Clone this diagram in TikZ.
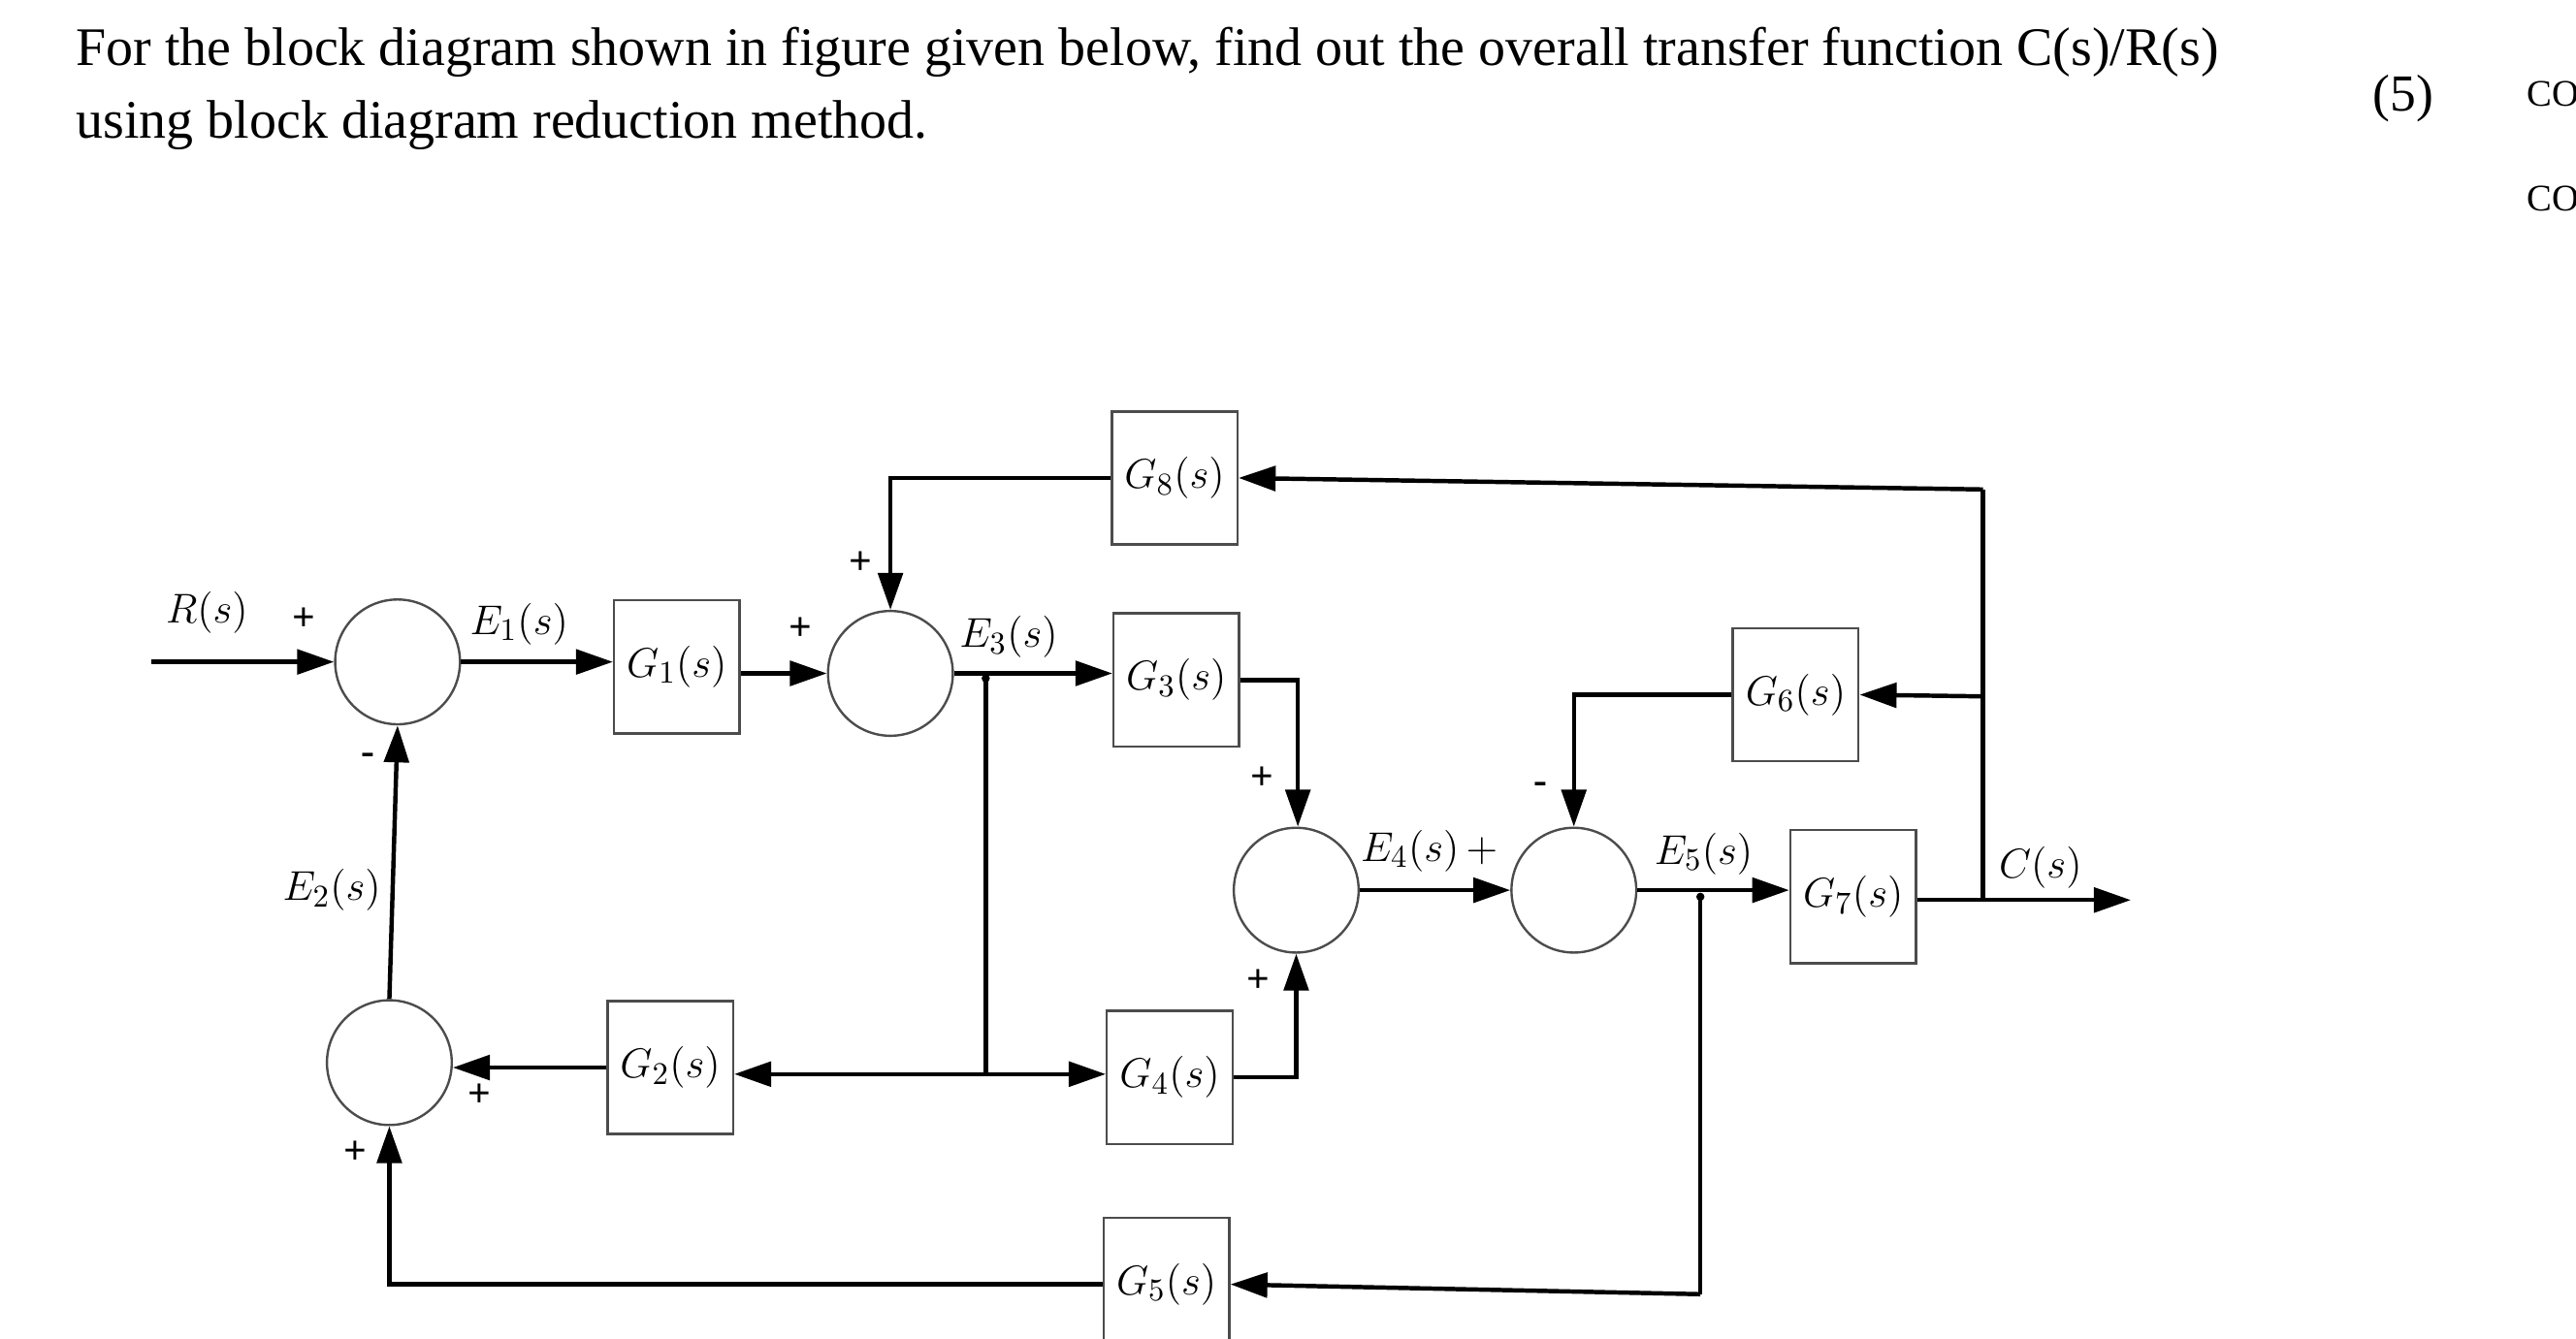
\documentclass[tikz,border=0pt]{standalone}
\usepackage{fontspec}
\setmainfont{Liberation Serif}
\usetikzlibrary{arrows.meta}
\begin{document}
\begin{tikzpicture}[x=0.02cm,y=-0.02cm,
  sumn/.style={circle,draw=black!70,line width=0.8pt,minimum size=1.52cm,inner sep=0},
  blk/.style={draw=black!70,line width=0.8pt,minimum width=1.53cm,minimum height=1.62cm,inner sep=0,font=\fontsize{15}{18}\selectfont},
  lbl/.style={font=\fontsize{15}{18}\selectfont,inner sep=1pt},
  sg/.style={font=\fontsize{14}{16}\selectfont\bfseries,inner sep=0},
  ln/.style={line width=1.5pt},
  ar/.style={line width=1.5pt,-{Triangle[length=0.45cm,width=0.3cm]}}]
\useasboundingbox (0,0) rectangle (1568,815);
\clip (0,0) rectangle (1568,815);
% title
\node[anchor=west,font=\fontsize{18.8}{21}\selectfont,inner sep=0] (t1) at (46,32) {For the block diagram shown in figure given below, find out the overall transfer function C(s)/R(s)};
\node[anchor=west,font=\fontsize{18.8}{21}\selectfont,inner sep=0] (t2) at (46,76) {using block diagram reduction method.};
\node[font=\fontsize{18}{20}\selectfont,inner sep=0] (t3) at (1463,60) {(5)};
\node[anchor=west,font=\fontsize{13}{15}\selectfont,inner sep=0] (t4) at (1538,57) {CO};
\node[anchor=west,font=\fontsize{13}{15}\selectfont,inner sep=0] (t5) at (1538,121) {CO};
% summing junctions
\node[sumn] (s1) at (242,403) {};
\node[sumn] (s2) at (542,410) {};
\node[sumn] (s3) at (789,542) {};
\node[sumn] (s4) at (958,542) {};
\node[sumn] (s5) at (237,647) {};
% blocks
\node[blk] (g1) at (412,406) {$G_1(s)$};
\node[blk] (g8) at (715,291) {$G_8(s)$};
\node[blk] (g3) at (716,414) {$G_3(s)$};
\node[blk] (g6) at (1093,423) {$G_6(s)$};
\node[blk] (g7) at (1128,546) {$G_7(s)$};
\node[blk] (g2) at (408,650) {$G_2(s)$};
\node[blk] (g4) at (712,656) {$G_4(s)$};
\node[blk] (g5) at (710,782) {$G_5(s)$};
% coordinates
\coordinate (in) at (92,403);
\coordinate (b1) at (600,413);
\coordinate (b1d) at (600,654);
\coordinate (b2) at (1035,546);
\coordinate (b2d) at (1035,788);
\coordinate (b3) at (1207,548);
\coordinate (b3t) at (1207,298);
\coordinate (b3m) at (1207,424);
\coordinate (out) at (1297,548);
% connectors
\draw[ar] (in) -- (s1.west);
\draw[ar] (s1.east) -- (s1.east -| g1.west);
\draw[ar] (g1.east |- s2.west) -- (s2.west);
\draw[ar] (s2.east) -- (s2.east -| g3.west);
\coordinate (g3r) at (790,414);
\draw[ar] (g3.east) -- (g3r) -- (g3r |- s3.north);
\draw[ar] (s3.east) -- (s4.west);
\draw[ar] (s4.east) -- (s4.east -| g7.west);
\draw[ar] (g7.east |- b3) -- (out);
\draw[ln] (b3) -- (b3t);
\draw[ar] (b3t) -- (g8.east);
\draw[ar] (g8.west) -| (s2.north);
\draw[ar] (b3m) -- (g6.east);
\draw[ar] (g6.west) -| (s4.north);
\draw[ln] (b1) -- (b1d);
\draw[ar] (b1d) -- (b1d -| g4.west);
\draw[ar] (b1d) -- (b1d -| g2.east);
\draw[ar] (g4.east) -| (s3.south);
\draw[ar] (g2.west) -- (g2.west -| s5.east);
\draw[ar] (s5.north) -- (s1.south);
\draw[ln] (b2) -- (b2d);
\draw[ar] (b2d) -- (g5.east);
\draw[ar] (g5.west) -| (s5.south);
\fill (b1) circle (2.5); \fill (b2) circle (2.5);
% labels
\node[lbl] (lr) at (126,373) {$R(s)$};
\node[lbl] (le1) at (316,380) {$E_1(s)$};
\node[lbl] (le3) at (614,388) {$E_3(s)$};
\node[lbl] (le4) at (870,518) {$E_4(s)\,\mathbf{+}$};
\node[lbl] (le5) at (1037,520) {$E_5(s)$};
\node[lbl] (lc) at (1242,528) {$C(s)$};
\node[lbl] (le2) at (202,542) {$E_2(s)$};
\node[sg] (p1) at (185,377) {+};
\node[sg] (m1) at (224,462) {-};
\node[sg] (p2) at (487,383) {+};
\node[sg] (p3) at (524,343) {+};
\node[sg] (p4) at (768,474) {+};
\node[sg] (p5) at (766,597) {+};
\node[sg] (m2) at (938,480) {-};
\node[sg] (p6) at (292,667) {+};
\node[sg] (p7) at (216,702) {+};
\end{tikzpicture}
\end{document}
